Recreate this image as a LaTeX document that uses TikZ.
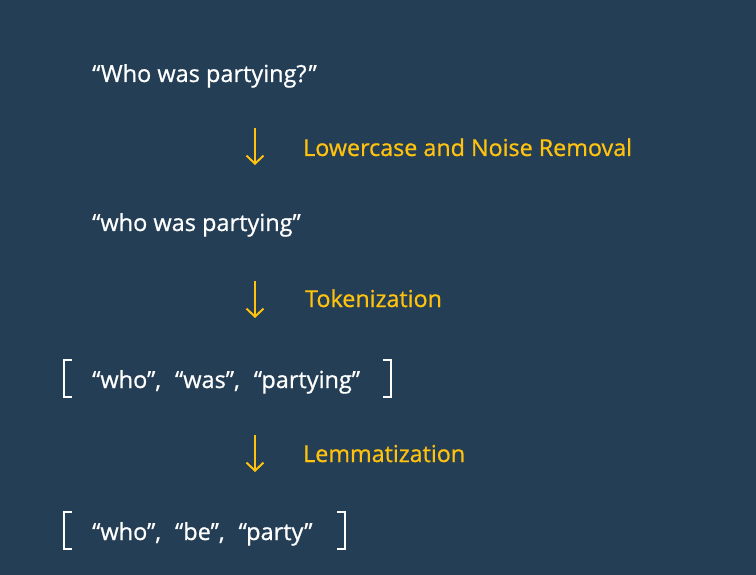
\documentclass[tikz,border=0pt]{standalone}
\usepackage{fontspec}
\setmainfont{Open Sans}[FakeBold=0.8]
\usetikzlibrary{arrows.meta,positioning}
\definecolor{bgblue}{HTML}{233E55}
\definecolor{stepyellow}{HTML}{FFC20E}
\tikzset{
  textline/.style={anchor=base west,text=white,inner sep=0pt,
    font=\fontsize{23.5}{27}\selectfont},
  steplabel/.style={anchor=base west,text=stepyellow,inner sep=0pt,
    font=\fontsize{23.3}{27}\selectfont},
  steparrow/.style={draw=stepyellow,line width=2pt,
    -{Straight Barb[length=8pt,width=17pt,line width=2pt]}},
  bracket/.style={draw=white,line width=2.2pt},
}

\begin{document}
\begin{tikzpicture}[x=1pt,y=-1pt]
  \fill[bgblue] (0,0) rectangle (756,575);
  \useasboundingbox (0,0) rectangle (756,575);
  % sentences
  \node[textline] (raw) at (92,82) {“Who was partying?\kern2pt”};
  \node[textline] (lower) at (92,231) {“who was partying”};
  \node[textline] (tokens) at (92,388) {“who”,\hspace{14pt}“was”,\hspace{14pt}“partying”};
  \node[textline] (lemmas) at (92,540) {“who”,\hspace{14pt}“be”,\hspace{14pt}“party”};
  % steps
  \coordinate (a1s) at (255,128); \coordinate (a1e) at (255,165);
  \coordinate (a2s) at (255,281); \coordinate (a2e) at (255,318);
  \coordinate (a3s) at (255,435); \coordinate (a3e) at (255,472);
  \draw[steparrow] (a1s) -- (a1e);
  \draw[steparrow] (a2s) -- (a2e);
  \draw[steparrow] (a3s) -- (a3e);
  \node[steplabel] (lnr) at (303,156) {Lowercase and Noise Removal};
  \node[steplabel] (tok) at (305,307) {Tokenization};
  \node[steplabel] (lem) at (303,462) {Lemmatization};
  % brackets
  \draw[bracket] (72,360) -- (64,360) -- (64,397) -- (72,397);
  \draw[bracket] (383,360) -- (391,360) -- (391,397) -- (383,397);
  \draw[bracket] (72,512) -- (64,512) -- (64,549) -- (72,549);
  \draw[bracket] (337,512) -- (345,512) -- (345,549) -- (337,549);
\end{tikzpicture}
\end{document}
